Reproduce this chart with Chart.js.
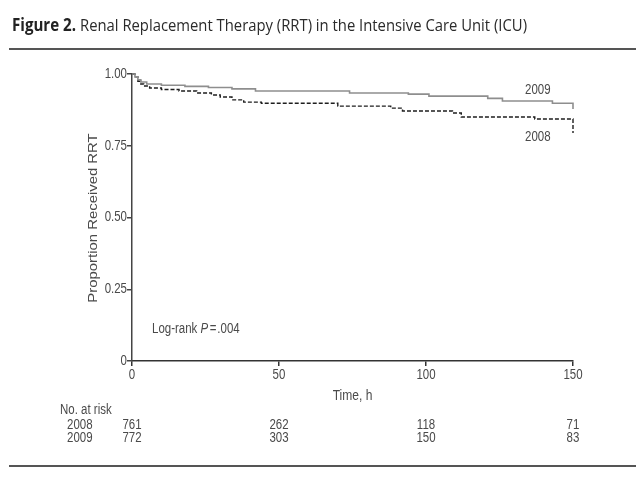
<!DOCTYPE html>
<html>
<head>
<meta charset="utf-8">
<script src="https://cdn.jsdelivr.net/npm/chart.js@4"></script>
<style>
  html, body { margin: 0; padding: 0; background: #fff; }
  #wrap { width: 638px; height: 478px; }
</style>
</head>
<body>
<div id="wrap"><canvas id="km-chart" width="638" height="478"></canvas></div>
<script>
// survival curves (time in hours, proportion without RRT)
const times2009 = [0, 1, 2, 3, 5, 10, 18, 26, 34, 42, 74, 94, 101, 121, 126, 143, 150];
const surv2009 = [1, 0.99, 0.98, 0.972, 0.965, 0.961, 0.957, 0.953, 0.948, 0.941, 0.934, 0.93, 0.923, 0.915, 0.906, 0.898, 0.878];
const times2008 = [0, 1, 2, 3, 4, 6, 10, 16, 22, 27, 30, 34, 38, 44, 70, 88, 92, 109, 112, 137, 150];
const surv2008 = [1, 0.99, 0.975, 0.965, 0.958, 0.951, 0.946, 0.941, 0.934, 0.927, 0.92, 0.91, 0.902, 0.898, 0.888, 0.881, 0.871, 0.864, 0.85, 0.843, 0.794];

// axis ticks
const xTicks = [0, 50, 100, 150];
const yTicks = [0, 0.25, 0.5, 0.75, 1];
const yTickLabels = ["0", "0.25", "0.50", "0.75", "1.00"];

// number at risk table
const riskTimes = [0, 50, 100, 150];
const risk2008 = [761, 262, 118, 71];
const risk2009 = [772, 303, 150, 83];

const sans = "'Liberation Sans', Arial, sans-serif";
const textGray = "#4a4a4a";

function toPoints(ts, ss) {
    return ts.map((t, i) => ({ x: t, y: ss[i] }));
}

// text squeezed along its direction, to get the condensed look of the original
function txt(c, s, x, y, o = {}) {
    c.save();
    c.translate(x, y);
    if (o.rotate) c.rotate(-Math.PI / 2);
    c.scale(o.sx || 0.82, 1);
    c.font = (o.style || "") + " " + (o.size || 14) + "px " + (o.family || sans);
    c.fillStyle = o.color || textGray;
    c.textAlign = o.align || "left";
    c.textBaseline = o.baseline || "middle";
    c.fillText(s, 0, 0);
    c.restore();
}

function widthOf(c, s, font) {
    c.save();
    c.font = font;
    const w = c.measureText(s).width;
    c.restore();
    return w;
}

const annotations = {
    id: "annotations",
    afterDraw(chart) {
        const c = chart.ctx;
        const xs = chart.scales.x;
        const ys = chart.scales.y;

        // title, fitted to the width it takes in the original
        const boldPart = "Figure 2.";
        const restPart = "Renal Replacement Therapy (RRT) in the Intensive Care Unit (ICU)";
        const bFont = "bold 17px 'Open Sans', sans-serif";
        const rFont = "17px 'Open Sans', sans-serif";
        txt(c, boldPart, 12, 31, {
            sx: 64 / widthOf(c, boldPart, bFont),
            size: 17, style: "bold", family: "'Open Sans', sans-serif",
            baseline: "alphabetic", color: "#222",
        });
        txt(c, restPart, 80, 31, {
            sx: 447 / widthOf(c, restPart, rFont),
            size: 17, family: "'Open Sans', sans-serif",
            baseline: "alphabetic", color: "#2a2a2a",
        });

        // rules
        c.fillStyle = "#555";
        c.fillRect(9, 48, 627, 2);
        c.fillRect(9, 465, 627, 2);

        // tick labels
        yTicks.forEach((v, i) => {
            txt(c, yTickLabels[i], 127, ys.getPixelForValue(v), { align: "right" });
        });
        xTicks.forEach((v) => {
            txt(c, String(v), xs.getPixelForValue(v), 375, { align: "center" });
        });

        // curve labels
        txt(c, "2009", 525, 90);
        txt(c, "2008", 525, 137);

        // log-rank
        let lx = 152;
        const lf = "14px " + sans;
        txt(c, "Log-rank", lx, 329);
        lx += widthOf(c, "Log-rank ", lf) * 0.82;
        txt(c, "P", lx, 329, { style: "italic" });
        lx += widthOf(c, "P", lf) * 0.82 + 1.5;
        txt(c, "=", lx, 329);
        lx += widthOf(c, "=", lf) * 0.82 + 1;
        txt(c, ".004", lx, 329);

        // axis titles
        txt(c, "Time, h", xs.getPixelForValue(75), 396, { align: "center", sx: 0.86 });
        txt(c, "Proportion Received RRT", 93, 218, { align: "center", rotate: true, size: 13.3, sx: 1.12 });

        // no. at risk
        txt(c, "No. at risk", 60, 410);
        txt(c, "2008", 67, 425);
        txt(c, "2009", 67, 438);
        riskTimes.forEach((t, i) => {
            const px = xs.getPixelForValue(t);
            txt(c, String(risk2008[i]), px, 425, { align: "center" });
            txt(c, String(risk2009[i]), px, 438, { align: "center" });
        });
    },
};

const ctx = document.getElementById("km-chart").getContext("2d");

new Chart(ctx, {
    type: "line",
    data: {
        datasets: [
            {
                label: "2009",
                data: toPoints(times2009, surv2009),
                borderColor: "#8e8e8e",
                borderWidth: 1.6,
                stepped: "before",
                pointRadius: 0,
                fill: false,
            },
            {
                label: "2008",
                data: toPoints(times2008, surv2008),
                borderColor: "#1e1e1e",
                borderWidth: 1.4,
                borderDash: [4, 2],
                stepped: "before",
                pointRadius: 0,
                fill: false,
            },
        ],
    },
    options: {
        responsive: false,
        animation: false,
        clip: 6,
        layout: {
            padding: { left: 0, top: 74, right: 65, bottom: 0 },
        },
        plugins: {
            legend: { display: false },
            tooltip: { enabled: false },
        },
        scales: {
            x: {
                type: "linear",
                min: 0,
                max: 150,
                afterFit: (scale) => {
                    scale.height = 478 - 361;
                },
                afterBuildTicks: (scale) => {
                    scale.ticks = xTicks.map((v) => ({ value: v }));
                },
                border: { display: true, color: "#333", width: 1.5 },
                grid: {
                    drawOnChartArea: false,
                    drawTicks: true,
                    tickLength: 5,
                    color: "#333",
                    lineWidth: 1.5,
                },
                ticks: {
                    color: "rgba(0,0,0,0)",
                    maxRotation: 0,
                },
            },
            y: {
                type: "linear",
                min: 0,
                max: 1,
                afterFit: (scale) => {
                    scale.width = 132;
                },
                afterBuildTicks: (scale) => {
                    scale.ticks = yTicks.map((v) => ({ value: v }));
                },
                border: { display: true, color: "#444", width: 1.5 },
                grid: {
                    drawOnChartArea: false,
                    drawTicks: true,
                    tickLength: 5,
                    color: "#444",
                    lineWidth: 1.5,
                },
                ticks: {
                    color: "rgba(0,0,0,0)",
                },
            },
        },
    },
    plugins: [annotations],
});
</script>
</body>
</html>
